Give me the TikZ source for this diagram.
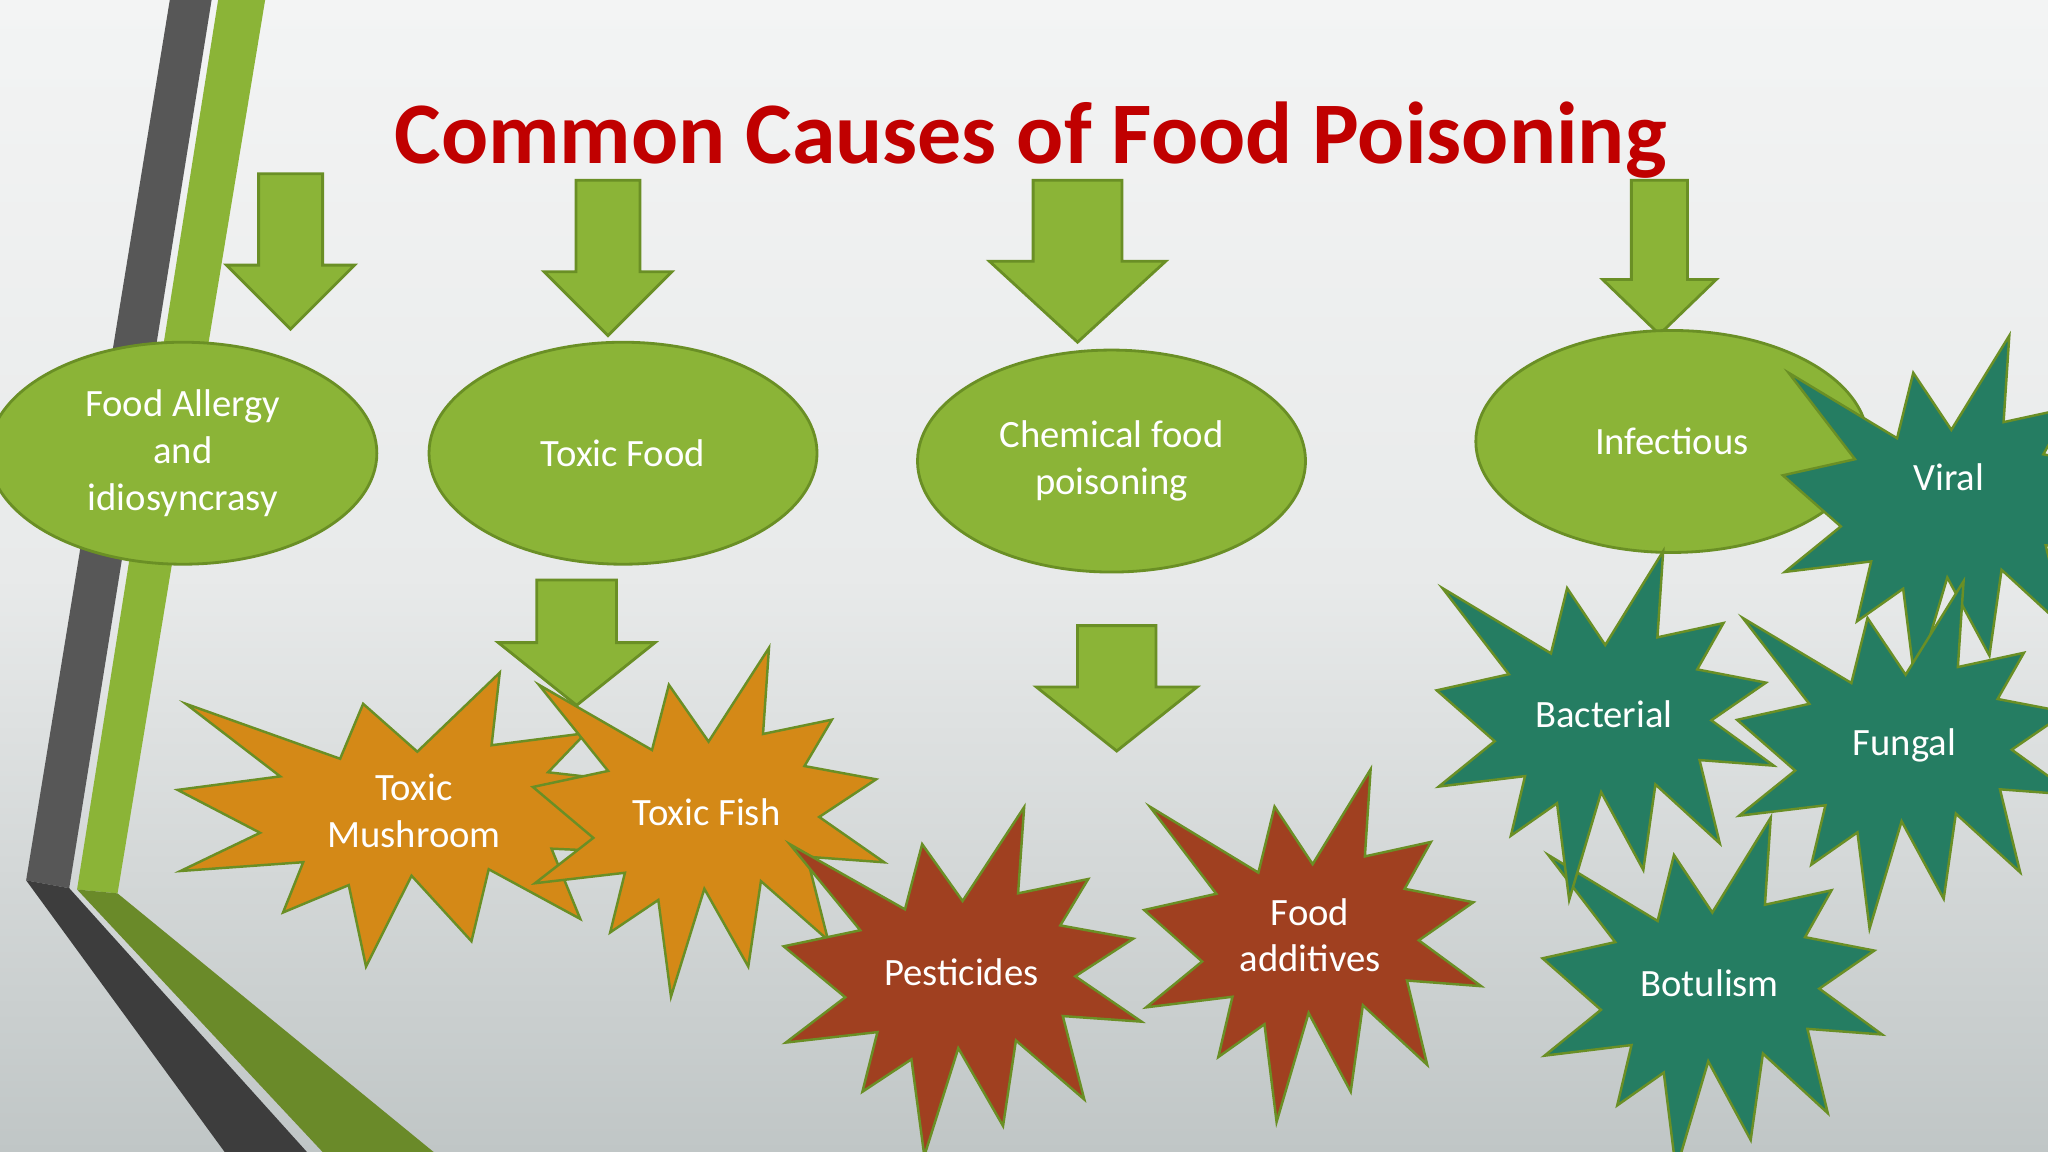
\documentclass[tikz,border=0pt]{standalone}
\usepackage{fontspec}
\setmainfont{Carlito}
\usepackage{tikz}
\usetikzlibrary{shapes.geometric}
\usetikzlibrary{positioning}
\definecolor{leaf}{RGB}{139,180,55}
\definecolor{leafline}{RGB}{106,143,37}
\definecolor{olivebar}{RGB}{106,138,41}
\definecolor{darkbar}{RGB}{87,87,87}
\definecolor{darkerbar}{RGB}{61,61,61}
\definecolor{toxicorange}{RGB}{212,137,23}
\definecolor{chemred}{RGB}{160,64,32}
\definecolor{germteal}{RGB}{37,125,98}
\definecolor{titlered}{RGB}{192,0,0}
\newcommand{\tikzPlaceArrow}[6]{\draw[blockarrow] ({#1-#5},#2) -- ({#1+#5},#2) -- ({#1+#5},#3) -- ({#1+#6},#3) -- (#1,#4) -- ({#1-#6},#3) -- ({#1-#5},#3) -- cycle}
\newcommand{\tikzPlaceBurst}[5]{\draw[burst, fill = #5, shift = {(#1,#2)}, xscale = #3/1000, yscale = #4/1000]
    (500,269) -- (672,0) -- (655,247) -- (851,206) -- (773,339) -- (977,377) -- (815,485) -- (1000,615)
    -- (780,599) -- (840,838) -- (649,669) -- (613,914) -- (488,691) -- (393,1000) -- (357,723)
    -- (220,816) -- (262,645) -- (6,675) -- (172,545) -- (0,399) -- (214,353) -- (17,106)
    -- (339,293) -- (387,106) -- cycle}
\tikzset{
  cause/.style = {ellipse, draw = leafline, fill = leaf, line width = 0.8pt, minimum width = 3.88cm,
    minimum height = 2.22cm, inner sep = 0pt, text = white, align = center, font = \fontsize{11}{13.3}\selectfont},
  burst/.style = {draw = leafline, line width = 0.7pt, line join = miter},
  burstlabel/.style = {text = white, align = center, font = \fontsize{11}{13.3}\selectfont},
  blockarrow/.style = {draw = leafline, fill = leaf, line width = 0.8pt}
}

\begin{document}
\begin{tikzpicture}[x = 0.013061cm, y = -0.013061cm]
          \useasboundingbox (0,0) rectangle (1568,882);
          \shade[top color = {rgb,255:red,243;green,244;blue,244}, bottom color = {rgb,255:red,192;green,198;blue,198},
            middle color = {rgb,255:red,232;green,234;blue,234}] (0,0) rectangle (1568,882);
          % side bars
          \fill[darkbar] (130,0) -- (162,0) -- (53,680) -- (20,674) -- cycle;
          \fill[darkerbar] (20,674) -- (53,680) -- (235,882) -- (172,882) -- cycle;
          \fill[leaf] (167,0) -- (203,0) -- (90,684) -- (59,681) -- cycle;
          \fill[olivebar] (59,681) -- (90,684) -- (332,882) -- (247,882) -- cycle;
          % title
          \node[anchor = base, text = titlered, font = \fontsize{25}{30}\selectfont\bfseries] (title) at (789,125) {Common Causes of Food Poisoning};
          % arrows
          \tikzPlaceArrow{222.5}{133}{203}{252}{24.5}{49};
          \tikzPlaceArrow{465.5}{138}{208}{257}{24.5}{49};
          \tikzPlaceArrow{825}{138}{200}{262}{34}{67.5};
          \tikzPlaceArrow{1270.5}{138}{214}{256}{21.5}{43.5};
          \tikzPlaceArrow{441.5}{444}{492}{540}{30.5}{60};
          \tikzPlaceArrow{855}{479}{526}{575}{30}{61.5};
          % causes
          \node[cause] (allergy) at (140,347) {Food Allergy\\and\\idiosyncrasy};
          \node[cause] (toxicfood) at (477,347) {Toxic Food};
          \node[cause] (chemical) at (851,353) {Chemical food\\poisoning};
          \node[cause, minimum width = 3.92cm] (infectious) at (1280,338) {Infectious};
          % kinds
          \tikzPlaceBurst{136}{515}{367}{225}{toxicorange};
          \node[burstlabel] (mushroom) at (317,621) {Toxic\\Mushroom};
          \tikzPlaceBurst{408}{496}{269}{267}{toxicorange};
          \node[burstlabel] (fish) at (541,622) {Toxic Fish};
          \tikzPlaceBurst{600}{618}{274}{267}{chemred};
          \node[burstlabel] (pesticides) at (736,744) {Pesticides};
          \tikzPlaceBurst{876}{589}{258}{270}{chemred};
          \node[burstlabel] (additives) at (1003,716) {Food\\additives};
          \tikzPlaceBurst{1181}{626}{260}{270}{germteal};
          \node[burstlabel] (botulism) at (1309,753) {Botulism};
          \tikzPlaceBurst{1100}{422}{258}{267}{germteal};
          \node[burstlabel] (bacterial) at (1228,547) {Bacterial};
          \tikzPlaceBurst{1365}{257}{258}{268}{germteal};
          \node[burstlabel] (viral) at (1492,365) {Viral};
          \tikzPlaceBurst{1330}{445}{258}{266}{germteal};
          \node[burstlabel] (fungal) at (1458,571) {Fungal};
        \end{tikzpicture}
\end{document}
